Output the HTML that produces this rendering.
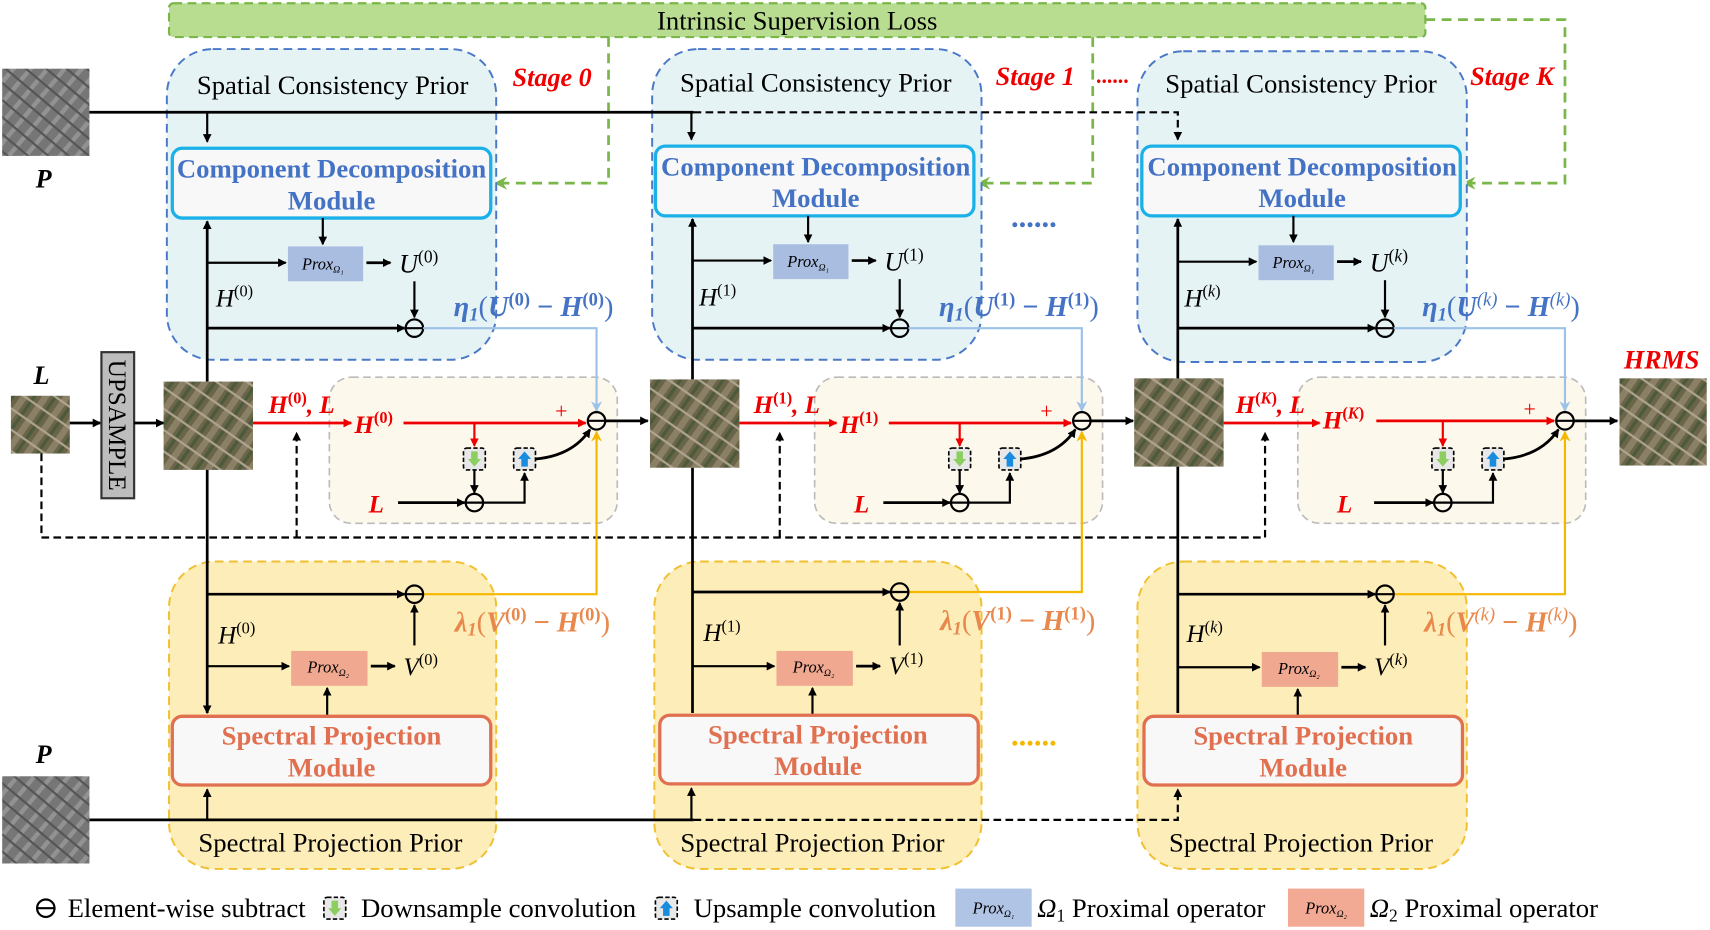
<!DOCTYPE html>
<html><head><meta charset="utf-8"><style>
html,body{margin:0;padding:0;background:#fff;}
svg{display:block;font-family:"Liberation Serif",serif;}
</style></head><body>
<svg width="1710" height="930" viewBox="0 0 1568 853" preserveAspectRatio="none" xmlns="http://www.w3.org/2000/svg">
<defs>
<marker id="ak" markerWidth="8" markerHeight="8" refX="7" refY="4" orient="auto" markerUnits="userSpaceOnUse"><path d="M0,0 L8,4 L0,8 Z" fill="#000"/></marker>
<marker id="ar" markerWidth="8" markerHeight="8" refX="7" refY="4" orient="auto" markerUnits="userSpaceOnUse"><path d="M0,0 L8,4 L0,8 Z" fill="#e00"/></marker>
<marker id="ab" markerWidth="10" markerHeight="10" refX="9" refY="5" orient="auto" markerUnits="userSpaceOnUse"><path d="M0,0 L10,5 L0,10 L3,5 Z" fill="#9cc2e8"/></marker>
<marker id="ay" markerWidth="10" markerHeight="10" refX="9" refY="5" orient="auto" markerUnits="userSpaceOnUse"><path d="M0,0 L10,5 L0,10 L3,5 Z" fill="#f5b800"/></marker>
<marker id="ag" markerWidth="12" markerHeight="12" refX="11" refY="6" orient="auto" markerUnits="userSpaceOnUse"><path d="M0,0 L12,6 L0,12 L4,6 Z" fill="#7ab648"/></marker>
<pattern id="sat" width="16" height="16" patternUnits="userSpaceOnUse" patternTransform="rotate(35)">
<rect width="16" height="16" fill="#6a6448"/><rect width="6" height="16" fill="#8a8066"/><rect x="9" width="3" height="16" fill="#4c5a3c"/><rect y="12" width="16" height="2" fill="#b0a490"/></pattern>
<pattern id="pan" width="12" height="12" patternUnits="userSpaceOnUse" patternTransform="rotate(40)">
<rect width="12" height="12" fill="#767676"/><rect width="4" height="12" fill="#929292"/><rect y="8" width="12" height="2" fill="#555"/></pattern>
</defs>

<rect x="155" y="3" width="1152" height="31" rx="4" fill="#b8dd90" stroke="#7ab648" stroke-width="2" stroke-dasharray="8,5"/>
<text x="731" y="27" font-size="24.5" text-anchor="middle">Intrinsic Supervision Loss</text>
<g fill="none" stroke="#7ab648" stroke-width="2.5" stroke-dasharray="9,6">
<path d="M558,34 V168 H454" marker-end="url(#ag)"/>
<path d="M1002,34 V168 H897" marker-end="url(#ag)"/>
<path d="M1307,18 H1435 V168 H1342" marker-end="url(#ag)"/>
</g>

<rect x="2" y="63" width="80" height="80" fill="url(#pan)"/>
<text x="40" y="172" font-size="24" font-weight="bold" font-style="italic" text-anchor="middle">P</text>
<rect x="2" y="712" width="80" height="80" fill="url(#pan)"/>
<text x="40" y="700" font-size="24" font-weight="bold" font-style="italic" text-anchor="middle">P</text>
<rect x="10" y="363" width="54" height="53" fill="url(#sat)"/>
<text x="38" y="352" font-size="24" font-weight="bold" font-style="italic" text-anchor="middle">L</text>
<line x1="64" y1="388" x2="92" y2="388" stroke="#000" stroke-width="2.5" marker-end="url(#ak)"/>
<rect x="93" y="323" width="30" height="134" fill="#bdbdbd" stroke="#333" stroke-width="2"/>
<text transform="translate(100,390) rotate(90)" font-size="23" text-anchor="middle">UPSAMPLE</text>
<line x1="123" y1="388" x2="150" y2="388" stroke="#000" stroke-width="2.5" marker-end="url(#ak)"/>

<g fill="none" stroke="#000" stroke-width="2" stroke-dasharray="7,4">
<path d="M38,416 V493 H1160"/>
<path d="M272,493 V397" marker-end="url(#ak)"/>
<path d="M715,493 V397" marker-end="url(#ak)"/>
<path d="M1160,493 V397" marker-end="url(#ak)"/>
</g>

<!-- Stage 0 -->
<g>
<rect x="153" y="45" width="302" height="285" rx="42" fill="#e6f3f5" stroke="#4a78c8" stroke-width="1.8" stroke-dasharray="8,5"/>
<rect x="155" y="515" width="300" height="282" rx="42" fill="#fdedb8" stroke="#f0c030" stroke-width="1.8" stroke-dasharray="8,5"/>
<rect x="302" y="346" width="264" height="134" rx="20" fill="#fdf8ec" stroke="#bbb" stroke-width="1.5" stroke-dasharray="7,4"/>
<text x="305" y="86" font-size="24.5" text-anchor="middle">Spatial Consistency Prior</text>
<text x="303" y="781" font-size="24.5" text-anchor="middle">Spectral Projection Prior</text>
<rect x="158" y="136" width="292" height="64" rx="9" fill="#f8f8f8" stroke="#1ab0e8" stroke-width="3"/>
<text x="304" y="163" font-size="24.5" font-weight="bold" fill="#4472c4" text-anchor="middle">Component Decomposition</text>
<text x="304" y="192" font-size="24.5" font-weight="bold" fill="#4472c4" text-anchor="middle">Module</text>
<line x1="296" y1="200" x2="296" y2="224" stroke="#000" stroke-width="2" marker-end="url(#ak)"/>
<rect x="264" y="226" width="69" height="32" fill="#a9bde0"/>
<text x="296" y="247" font-size="15" font-style="italic" text-anchor="middle">Prox<tspan font-size="9" dy="3">Ω₁</tspan></text>
<line x1="190" y1="350" x2="190" y2="203" stroke="#000" stroke-width="2.5" marker-end="url(#ak)"/>
<line x1="190" y1="241" x2="262" y2="241" stroke="#000" stroke-width="2" marker-end="url(#ak)"/>
<line x1="336" y1="241" x2="358" y2="241" stroke="#000" stroke-width="2.5" marker-end="url(#ak)"/>
<text x="366" y="250" font-size="24" font-style="italic">U<tspan font-size="16" font-style="normal" dy="-9">(0)</tspan></text>
<line x1="380" y1="258" x2="380" y2="291" stroke="#000" stroke-width="2" marker-end="url(#ak)"/>
<line x1="190" y1="301" x2="371" y2="301" stroke="#000" stroke-width="2.5" marker-end="url(#ak)"/>
<circle cx="380" cy="301" r="8" fill="none" stroke="#000" stroke-width="2"/><line x1="372" y1="301" x2="388" y2="301" stroke="#000" stroke-width="2"/>
<text x="198" y="281" font-size="23" font-style="italic">H<tspan font-size="15" font-style="normal" dy="-9">(0)</tspan></text>
<text x="416" y="290" font-size="26" font-weight="bold" font-style="italic" fill="#4472c4">η<tspan font-size="17" dy="4">1</tspan><tspan dy="-4" font-style="normal" font-weight="normal">(</tspan>U<tspan font-size="17" font-style="normal" dy="-10">(0)</tspan><tspan dy="10" font-style="normal"> − </tspan>H<tspan font-size="17" font-style="normal" dy="-10">(0)</tspan><tspan dy="10" font-style="normal" font-weight="normal">)</tspan></text>
<path d="M388,301 H547 V377" fill="none" stroke="#9cc2e8" stroke-width="2" marker-end="url(#ab)"/>
<rect x="150" y="350" width="82" height="81" fill="url(#sat)"/>
<line x1="232" y1="388" x2="322" y2="388" stroke="#e00" stroke-width="2.5" marker-end="url(#ar)"/>
<text x="246" y="379" font-size="23" font-weight="bold" font-style="italic" fill="#e00">H<tspan font-size="15" dy="-9" font-style="normal">(0)</tspan><tspan dy="9">, L</tspan></text>
<text x="325" y="397" font-size="23" font-weight="bold" font-style="italic" fill="#e00">H<tspan font-size="15" dy="-9" font-style="normal">(0)</tspan></text>
<line x1="370" y1="388" x2="537" y2="388" stroke="#e00" stroke-width="2.5" marker-end="url(#ar)"/>
<text x="509" y="384" font-size="20" fill="#e00">+</text>
<line x1="435" y1="388" x2="435" y2="409" stroke="#e00" stroke-width="2" marker-end="url(#ar)"/>
<rect x="425" y="411" width="20" height="20" rx="3" fill="#e8e8e8" stroke="#000" stroke-width="1.5" stroke-dasharray="4,2"/>
<path d="M432,414 h6 v7 h3 l-6,7 l-6,-7 h3 z" fill="#8ccf60"/>
<line x1="435" y1="431" x2="435" y2="452" stroke="#000" stroke-width="2" marker-end="url(#ak)"/>
<circle cx="435" cy="461" r="8" fill="none" stroke="#000" stroke-width="2"/><line x1="427" y1="461" x2="443" y2="461" stroke="#000" stroke-width="2"/>
<text x="338" y="470" font-size="23" font-weight="bold" font-style="italic" fill="#e00">L</text>
<line x1="365" y1="461" x2="426" y2="461" stroke="#000" stroke-width="2.5" marker-end="url(#ak)"/>
<path d="M443,461 H481 V434" fill="none" stroke="#000" stroke-width="2" marker-end="url(#ak)"/>
<rect x="471" y="411" width="20" height="20" rx="3" fill="#e8e8e8" stroke="#000" stroke-width="1.5" stroke-dasharray="4,2"/>
<path d="M478,428 h6 v-7 h3 l-6,-7 l-6,7 h3 z" fill="#1a8ce0"/>
<path d="M491,421 Q525,418 541,394" fill="none" stroke="#000" stroke-width="2.5" marker-end="url(#ak)"/>
<circle cx="547" cy="386" r="8" fill="none" stroke="#000" stroke-width="2"/><line x1="539" y1="386" x2="555" y2="386" stroke="#000" stroke-width="2"/>
<line x1="555" y1="386" x2="594" y2="386" stroke="#000" stroke-width="2.5" marker-end="url(#ak)"/>
<path d="M388,545 H547 V396" fill="none" stroke="#f5b800" stroke-width="2" marker-end="url(#ay)"/>
<line x1="190" y1="431" x2="190" y2="654" stroke="#000" stroke-width="2.5" marker-end="url(#ak)"/>
<line x1="190" y1="545" x2="371" y2="545" stroke="#000" stroke-width="2.5" marker-end="url(#ak)"/>
<circle cx="380" cy="545" r="8" fill="none" stroke="#000" stroke-width="2"/><line x1="372" y1="545" x2="388" y2="545" stroke="#000" stroke-width="2"/>
<text x="200" y="590" font-size="23" font-style="italic">H<tspan font-size="15" font-style="normal" dy="-9">(0)</tspan></text>
<line x1="190" y1="611" x2="265" y2="611" stroke="#000" stroke-width="2" marker-end="url(#ak)"/>
<rect x="267" y="597" width="70" height="32" fill="#f0a890"/>
<text x="301" y="617" font-size="15" font-style="italic" text-anchor="middle">Prox<tspan font-size="9" dy="3">Ω₂</tspan></text>
<line x1="340" y1="611" x2="362" y2="611" stroke="#000" stroke-width="2.5" marker-end="url(#ak)"/>
<text x="370" y="619" font-size="23" font-style="italic">V<tspan font-size="15" font-style="normal" dy="-9">(0)</tspan></text>
<line x1="380" y1="592" x2="380" y2="555" stroke="#000" stroke-width="2" marker-end="url(#ak)"/>
<line x1="300" y1="656" x2="300" y2="631" stroke="#000" stroke-width="2" marker-end="url(#ak)"/>
<text x="417" y="579" font-size="26" font-weight="bold" font-style="italic" fill="#e8884c">λ<tspan font-size="17" dy="4">1</tspan><tspan dy="-4" font-style="normal" font-weight="normal">(</tspan>V<tspan font-size="17" font-style="normal" dy="-10">(0)</tspan><tspan dy="10" font-style="normal"> − </tspan>H<tspan font-size="17" font-style="normal" dy="-10">(0)</tspan><tspan dy="10" font-style="normal" font-weight="normal">)</tspan></text>
<rect x="158" y="657" width="292" height="63" rx="9" fill="#f8f8f8" stroke="#e07050" stroke-width="3"/>
<text x="304" y="683" font-size="24.5" font-weight="bold" fill="#e07050" text-anchor="middle">Spectral Projection</text>
<text x="304" y="712" font-size="24.5" font-weight="bold" fill="#e07050" text-anchor="middle">Module</text>
</g>

<!-- Stage 1 -->
<g transform="translate(445,0)">
<rect x="153" y="45" width="302" height="285" rx="42" fill="#e6f3f5" stroke="#4a78c8" stroke-width="1.8" stroke-dasharray="8,5"/>
<rect x="155" y="515" width="300" height="282" rx="42" fill="#fdedb8" stroke="#f0c030" stroke-width="1.8" stroke-dasharray="8,5"/>
<rect x="302" y="346" width="264" height="134" rx="20" fill="#fdf8ec" stroke="#bbb" stroke-width="1.5" stroke-dasharray="7,4"/>
<text x="303" y="84" font-size="24.5" text-anchor="middle">Spatial Consistency Prior</text>
<text x="300" y="781" font-size="24.5" text-anchor="middle">Spectral Projection Prior</text>
<rect x="156" y="134" width="292" height="64" rx="9" fill="#f8f8f8" stroke="#1ab0e8" stroke-width="3"/>
<text x="303" y="161" font-size="24.5" font-weight="bold" fill="#4472c4" text-anchor="middle">Component Decomposition</text>
<text x="303" y="190" font-size="24.5" font-weight="bold" fill="#4472c4" text-anchor="middle">Module</text>
<line x1="296" y1="198" x2="296" y2="222" stroke="#000" stroke-width="2" marker-end="url(#ak)"/>
<rect x="264" y="224" width="69" height="32" fill="#a9bde0"/>
<text x="296" y="245" font-size="15" font-style="italic" text-anchor="middle">Prox<tspan font-size="9" dy="3">Ω₁</tspan></text>
<line x1="190" y1="348" x2="190" y2="201" stroke="#000" stroke-width="2.5" marker-end="url(#ak)"/>
<line x1="190" y1="239" x2="262" y2="239" stroke="#000" stroke-width="2" marker-end="url(#ak)"/>
<line x1="336" y1="239" x2="358" y2="239" stroke="#000" stroke-width="2.5" marker-end="url(#ak)"/>
<text x="366" y="248" font-size="24" font-style="italic">U<tspan font-size="16" font-style="normal" dy="-9">(1)</tspan></text>
<line x1="380" y1="256" x2="380" y2="291" stroke="#000" stroke-width="2" marker-end="url(#ak)"/>
<line x1="190" y1="301" x2="371" y2="301" stroke="#000" stroke-width="2.5" marker-end="url(#ak)"/>
<circle cx="380" cy="301" r="8" fill="none" stroke="#000" stroke-width="2"/><line x1="372" y1="301" x2="388" y2="301" stroke="#000" stroke-width="2"/>
<text x="196" y="280" font-size="23" font-style="italic">H<tspan font-size="15" font-style="normal" dy="-9">(1)</tspan></text>
<text x="416" y="290" font-size="26" font-weight="bold" font-style="italic" fill="#4472c4">η<tspan font-size="17" dy="4">1</tspan><tspan dy="-4" font-style="normal" font-weight="normal">(</tspan>U<tspan font-size="17" font-style="normal" dy="-10">(1)</tspan><tspan dy="10" font-style="normal"> − </tspan>H<tspan font-size="17" font-style="normal" dy="-10">(1)</tspan><tspan dy="10" font-style="normal" font-weight="normal">)</tspan></text>
<path d="M388,301 H547 V377" fill="none" stroke="#9cc2e8" stroke-width="2" marker-end="url(#ab)"/>
<rect x="151" y="348" width="82" height="81" fill="url(#sat)"/>
<line x1="233" y1="388" x2="322" y2="388" stroke="#e00" stroke-width="2.5" marker-end="url(#ar)"/>
<text x="246" y="379" font-size="23" font-weight="bold" font-style="italic" fill="#e00">H<tspan font-size="15" dy="-9" font-style="normal">(1)</tspan><tspan dy="9">, L</tspan></text>
<text x="325" y="397" font-size="23" font-weight="bold" font-style="italic" fill="#e00">H<tspan font-size="15" dy="-9" font-style="normal">(1)</tspan></text>
<line x1="370" y1="388" x2="537" y2="388" stroke="#e00" stroke-width="2.5" marker-end="url(#ar)"/>
<text x="509" y="384" font-size="20" fill="#e00">+</text>
<line x1="435" y1="388" x2="435" y2="409" stroke="#e00" stroke-width="2" marker-end="url(#ar)"/>
<rect x="425" y="411" width="20" height="20" rx="3" fill="#e8e8e8" stroke="#000" stroke-width="1.5" stroke-dasharray="4,2"/>
<path d="M432,414 h6 v7 h3 l-6,7 l-6,-7 h3 z" fill="#8ccf60"/>
<line x1="435" y1="431" x2="435" y2="452" stroke="#000" stroke-width="2" marker-end="url(#ak)"/>
<circle cx="435" cy="461" r="8" fill="none" stroke="#000" stroke-width="2"/><line x1="427" y1="461" x2="443" y2="461" stroke="#000" stroke-width="2"/>
<text x="338" y="470" font-size="23" font-weight="bold" font-style="italic" fill="#e00">L</text>
<line x1="365" y1="461" x2="426" y2="461" stroke="#000" stroke-width="2.5" marker-end="url(#ak)"/>
<path d="M443,461 H481 V434" fill="none" stroke="#000" stroke-width="2" marker-end="url(#ak)"/>
<rect x="471" y="411" width="20" height="20" rx="3" fill="#e8e8e8" stroke="#000" stroke-width="1.5" stroke-dasharray="4,2"/>
<path d="M478,428 h6 v-7 h3 l-6,-7 l-6,7 h3 z" fill="#1a8ce0"/>
<path d="M491,421 Q525,418 541,394" fill="none" stroke="#000" stroke-width="2.5" marker-end="url(#ak)"/>
<circle cx="547" cy="386" r="8" fill="none" stroke="#000" stroke-width="2"/><line x1="539" y1="386" x2="555" y2="386" stroke="#000" stroke-width="2"/>
<line x1="555" y1="386" x2="594" y2="386" stroke="#000" stroke-width="2.5" marker-end="url(#ak)"/>
<path d="M388,543 H547 V396" fill="none" stroke="#f5b800" stroke-width="2" marker-end="url(#ay)"/>
<line x1="190" y1="429" x2="190" y2="654" stroke="#000" stroke-width="2.5"/>
<line x1="190" y1="543" x2="371" y2="543" stroke="#000" stroke-width="2.5" marker-end="url(#ak)"/>
<circle cx="380" cy="543" r="8" fill="none" stroke="#000" stroke-width="2"/><line x1="372" y1="543" x2="388" y2="543" stroke="#000" stroke-width="2"/>
<text x="200" y="588" font-size="23" font-style="italic">H<tspan font-size="15" font-style="normal" dy="-9">(1)</tspan></text>
<line x1="190" y1="611" x2="265" y2="611" stroke="#000" stroke-width="2" marker-end="url(#ak)"/>
<rect x="267" y="597" width="70" height="32" fill="#f0a890"/>
<text x="301" y="617" font-size="15" font-style="italic" text-anchor="middle">Prox<tspan font-size="9" dy="3">Ω₂</tspan></text>
<line x1="340" y1="611" x2="362" y2="611" stroke="#000" stroke-width="2.5" marker-end="url(#ak)"/>
<text x="370" y="618" font-size="23" font-style="italic">V<tspan font-size="15" font-style="normal" dy="-9">(1)</tspan></text>
<line x1="380" y1="592" x2="380" y2="553" stroke="#000" stroke-width="2" marker-end="url(#ak)"/>
<line x1="300" y1="656" x2="300" y2="631" stroke="#000" stroke-width="2" marker-end="url(#ak)"/>
<text x="417" y="578" font-size="26" font-weight="bold" font-style="italic" fill="#e8884c">λ<tspan font-size="17" dy="4">1</tspan><tspan dy="-4" font-style="normal" font-weight="normal">(</tspan>V<tspan font-size="17" font-style="normal" dy="-10">(1)</tspan><tspan dy="10" font-style="normal"> − </tspan>H<tspan font-size="17" font-style="normal" dy="-10">(1)</tspan><tspan dy="10" font-style="normal" font-weight="normal">)</tspan></text>
<rect x="160" y="656" width="292" height="63" rx="9" fill="#f8f8f8" stroke="#e07050" stroke-width="3"/>
<text x="305" y="682" font-size="24.5" font-weight="bold" fill="#e07050" text-anchor="middle">Spectral Projection</text>
<text x="305" y="711" font-size="24.5" font-weight="bold" fill="#e07050" text-anchor="middle">Module</text>
</g>

<!-- Stage K -->
<g transform="translate(890,0)">
<rect x="153" y="47" width="302" height="285" rx="42" fill="#e6f3f5" stroke="#4a78c8" stroke-width="1.8" stroke-dasharray="8,5"/>
<rect x="153" y="515" width="302" height="282" rx="42" fill="#fdedb8" stroke="#f0c030" stroke-width="1.8" stroke-dasharray="8,5"/>
<rect x="300" y="346" width="264" height="134" rx="20" fill="#fdf8ec" stroke="#bbb" stroke-width="1.5" stroke-dasharray="7,4"/>
<text x="303" y="85" font-size="24.5" text-anchor="middle">Spatial Consistency Prior</text>
<text x="303" y="781" font-size="24.5" text-anchor="middle">Spectral Projection Prior</text>
<rect x="157" y="134" width="292" height="64" rx="9" fill="#f8f8f8" stroke="#1ab0e8" stroke-width="3"/>
<text x="304" y="161" font-size="24.5" font-weight="bold" fill="#4472c4" text-anchor="middle">Component Decomposition</text>
<text x="304" y="190" font-size="24.5" font-weight="bold" fill="#4472c4" text-anchor="middle">Module</text>
<line x1="296" y1="198" x2="296" y2="222" stroke="#000" stroke-width="2" marker-end="url(#ak)"/>
<rect x="264" y="225" width="69" height="32" fill="#a9bde0"/>
<text x="296" y="246" font-size="15" font-style="italic" text-anchor="middle">Prox<tspan font-size="9" dy="3">Ω₁</tspan></text>
<line x1="190" y1="348" x2="190" y2="201" stroke="#000" stroke-width="2.5" marker-end="url(#ak)"/>
<line x1="190" y1="240" x2="262" y2="240" stroke="#000" stroke-width="2" marker-end="url(#ak)"/>
<line x1="336" y1="240" x2="358" y2="240" stroke="#000" stroke-width="2.5" marker-end="url(#ak)"/>
<text x="366" y="249" font-size="24" font-style="italic">U<tspan font-size="16" font-style="normal" dy="-9">(</tspan><tspan font-size="16">k</tspan><tspan font-size="16" font-style="normal">)</tspan></text>
<line x1="380" y1="257" x2="380" y2="291" stroke="#000" stroke-width="2" marker-end="url(#ak)"/>
<line x1="190" y1="301" x2="371" y2="301" stroke="#000" stroke-width="2.5" marker-end="url(#ak)"/>
<circle cx="380" cy="301" r="8" fill="none" stroke="#000" stroke-width="2"/><line x1="372" y1="301" x2="388" y2="301" stroke="#000" stroke-width="2"/>
<text x="196" y="281" font-size="23" font-style="italic">H<tspan font-size="15" font-style="normal" dy="-9">(</tspan><tspan font-size="15">k</tspan><tspan font-size="15" font-style="normal">)</tspan></text>
<text x="414" y="290" font-size="26" font-weight="bold" font-style="italic" fill="#4472c4">η<tspan font-size="17" dy="4">1</tspan><tspan dy="-4" font-style="normal" font-weight="normal">(</tspan>U<tspan font-size="17" font-weight="normal" dy="-10">(k)</tspan><tspan dy="10" font-style="normal"> − </tspan>H<tspan font-size="17" font-weight="normal" dy="-10">(k)</tspan><tspan dy="10" font-style="normal" font-weight="normal">)</tspan></text>
<path d="M388,301 H545 V377" fill="none" stroke="#9cc2e8" stroke-width="2" marker-end="url(#ab)"/>
<rect x="150" y="347" width="82" height="81" fill="url(#sat)"/>
<line x1="232" y1="388" x2="320" y2="388" stroke="#e00" stroke-width="2.5" marker-end="url(#ar)"/>
<text x="243" y="379" font-size="23" font-weight="bold" font-style="italic" fill="#e00">H<tspan font-size="15" dy="-9" font-style="normal">(</tspan><tspan font-size="15">K</tspan><tspan font-size="15" font-style="normal">)</tspan><tspan dy="9">, L</tspan></text>
<text x="323" y="393" font-size="23" font-weight="bold" font-style="italic" fill="#e00">H<tspan font-size="15" dy="-9" font-style="normal">(</tspan><tspan font-size="15">K</tspan><tspan font-size="15" font-style="normal">)</tspan></text>
<line x1="372" y1="386" x2="535" y2="386" stroke="#e00" stroke-width="2.5" marker-end="url(#ar)"/>
<text x="507" y="382" font-size="20" fill="#e00">+</text>
<line x1="433" y1="386" x2="433" y2="409" stroke="#e00" stroke-width="2" marker-end="url(#ar)"/>
<rect x="423" y="411" width="20" height="20" rx="3" fill="#e8e8e8" stroke="#000" stroke-width="1.5" stroke-dasharray="4,2"/>
<path d="M430,414 h6 v7 h3 l-6,7 l-6,-7 h3 z" fill="#8ccf60"/>
<line x1="433" y1="431" x2="433" y2="452" stroke="#000" stroke-width="2" marker-end="url(#ak)"/>
<circle cx="433" cy="461" r="8" fill="none" stroke="#000" stroke-width="2"/><line x1="425" y1="461" x2="441" y2="461" stroke="#000" stroke-width="2"/>
<text x="336" y="470" font-size="23" font-weight="bold" font-style="italic" fill="#e00">L</text>
<line x1="370" y1="461" x2="424" y2="461" stroke="#000" stroke-width="2.5" marker-end="url(#ak)"/>
<path d="M441,461 H479 V434" fill="none" stroke="#000" stroke-width="2" marker-end="url(#ak)"/>
<rect x="469" y="411" width="20" height="20" rx="3" fill="#e8e8e8" stroke="#000" stroke-width="1.5" stroke-dasharray="4,2"/>
<path d="M476,428 h6 v-7 h3 l-6,-7 l-6,7 h3 z" fill="#1a8ce0"/>
<path d="M489,421 Q523,418 539,394" fill="none" stroke="#000" stroke-width="2.5" marker-end="url(#ak)"/>
<circle cx="545" cy="386" r="8" fill="none" stroke="#000" stroke-width="2"/><line x1="537" y1="386" x2="553" y2="386" stroke="#000" stroke-width="2"/>
<line x1="553" y1="386" x2="593" y2="386" stroke="#000" stroke-width="2.5" marker-end="url(#ak)"/>
<path d="M388,545 H545 V396" fill="none" stroke="#f5b800" stroke-width="2" marker-end="url(#ay)"/>
<line x1="190" y1="428" x2="190" y2="654" stroke="#000" stroke-width="2.5"/>
<line x1="190" y1="545" x2="371" y2="545" stroke="#000" stroke-width="2.5" marker-end="url(#ak)"/>
<circle cx="380" cy="545" r="8" fill="none" stroke="#000" stroke-width="2"/><line x1="372" y1="545" x2="388" y2="545" stroke="#000" stroke-width="2"/>
<text x="198" y="589" font-size="23" font-style="italic">H<tspan font-size="15" font-style="normal" dy="-9">(</tspan><tspan font-size="15">k</tspan><tspan font-size="15" font-style="normal">)</tspan></text>
<line x1="190" y1="612" x2="265" y2="612" stroke="#000" stroke-width="2" marker-end="url(#ak)"/>
<rect x="267" y="598" width="70" height="32" fill="#f0a890"/>
<text x="301" y="618" font-size="15" font-style="italic" text-anchor="middle">Prox<tspan font-size="9" dy="3">Ω₂</tspan></text>
<line x1="340" y1="612" x2="362" y2="612" stroke="#000" stroke-width="2.5" marker-end="url(#ak)"/>
<text x="370" y="619" font-size="23" font-style="italic">V<tspan font-size="15" font-style="normal" dy="-9">(</tspan><tspan font-size="15">k</tspan><tspan font-size="15" font-style="normal">)</tspan></text>
<line x1="380" y1="592" x2="380" y2="555" stroke="#000" stroke-width="2" marker-end="url(#ak)"/>
<line x1="300" y1="656" x2="300" y2="632" stroke="#000" stroke-width="2" marker-end="url(#ak)"/>
<text x="416" y="579" font-size="26" font-weight="bold" font-style="italic" fill="#e8884c">λ<tspan font-size="17" dy="4">1</tspan><tspan dy="-4" font-style="normal" font-weight="normal">(</tspan>V<tspan font-size="17" font-weight="normal" dy="-10">(k)</tspan><tspan dy="10" font-style="normal"> − </tspan>H<tspan font-size="17" font-weight="normal" dy="-10">(k)</tspan><tspan dy="10" font-style="normal" font-weight="normal">)</tspan></text>
<rect x="159" y="657" width="292" height="63" rx="9" fill="#f8f8f8" stroke="#e07050" stroke-width="3"/>
<text x="305" y="683" font-size="24.5" font-weight="bold" fill="#e07050" text-anchor="middle">Spectral Projection</text>
<text x="305" y="712" font-size="24.5" font-weight="bold" fill="#e07050" text-anchor="middle">Module</text>
</g>

<!-- P lines on top -->
<path d="M82,103 H636" stroke="#000" stroke-width="2.5" fill="none"/>
<path d="M82,752 H636" stroke="#000" stroke-width="2.5" fill="none"/>
<line x1="190" y1="103" x2="190" y2="130" stroke="#000" stroke-width="2" marker-end="url(#ak)"/>
<line x1="634" y1="103" x2="634" y2="128" stroke="#000" stroke-width="2" marker-end="url(#ak)"/>
<line x1="190" y1="752" x2="190" y2="724" stroke="#000" stroke-width="2" marker-end="url(#ak)"/>
<line x1="634" y1="752" x2="634" y2="723" stroke="#000" stroke-width="2" marker-end="url(#ak)"/>
<g fill="none" stroke="#000" stroke-width="2" stroke-dasharray="7,4">
<path d="M636,103 H1080 V128" marker-end="url(#ak)"/>
<path d="M636,752 H1080 V724" marker-end="url(#ak)"/>
</g>

<g font-size="24" font-weight="bold" font-style="italic" fill="#e00">
<text x="470" y="79">Stage 0</text>
<text x="913" y="78">Stage 1</text>
<text x="1348" y="78">Stage K</text>
<text x="1489" y="338">HRMS</text>
</g>
<text x="1005" y="76" font-size="20" font-weight="bold" fill="#e00">......</text>
<text x="927" y="208" font-size="28" font-weight="bold" fill="#4472c4">......</text>
<text x="927" y="684" font-size="28" font-weight="bold" fill="#f5b800">......</text>
<rect x="1485" y="347" width="80" height="80" fill="url(#sat)"/>

<g font-size="24.5">
<circle cx="42" cy="833" r="8" fill="none" stroke="#000" stroke-width="2"/><line x1="34" y1="833" x2="50" y2="833" stroke="#000" stroke-width="2"/>
<text x="62" y="841">Element-wise subtract</text>
<rect x="297" y="823" width="20" height="20" rx="3" fill="#e8e8e8" stroke="#000" stroke-width="1.5" stroke-dasharray="4,2"/>
<path d="M304,826 h6 v7 h3 l-6,7 l-6,-7 h3 z" fill="#8ccf60"/>
<text x="331" y="841">Downsample convolution</text>
<rect x="601" y="823" width="20" height="20" rx="3" fill="#e8e8e8" stroke="#000" stroke-width="1.5" stroke-dasharray="4,2"/>
<path d="M608,840 h6 v-7 h3 l-6,-7 l-6,7 h3 z" fill="#1a8ce0"/>
<text x="636" y="841">Upsample convolution</text>
<rect x="876" y="815" width="70" height="35" fill="#b0c4e6"/>
<text x="911" y="838" font-size="15" font-style="italic" text-anchor="middle">Prox<tspan font-size="9" dy="3">Ω₁</tspan></text>
<text x="951" y="841"><tspan font-style="italic">Ω</tspan><tspan font-size="16" dy="4">1</tspan><tspan dy="-4"> Proximal operator</tspan></text>
<rect x="1181" y="815" width="70" height="35" fill="#f2aa94"/>
<text x="1216" y="838" font-size="15" font-style="italic" text-anchor="middle">Prox<tspan font-size="9" dy="3">Ω₂</tspan></text>
<text x="1256" y="841"><tspan font-style="italic">Ω</tspan><tspan font-size="16" dy="4">2</tspan><tspan dy="-4"> Proximal operator</tspan></text>
</g>
</svg>
</body></html>
